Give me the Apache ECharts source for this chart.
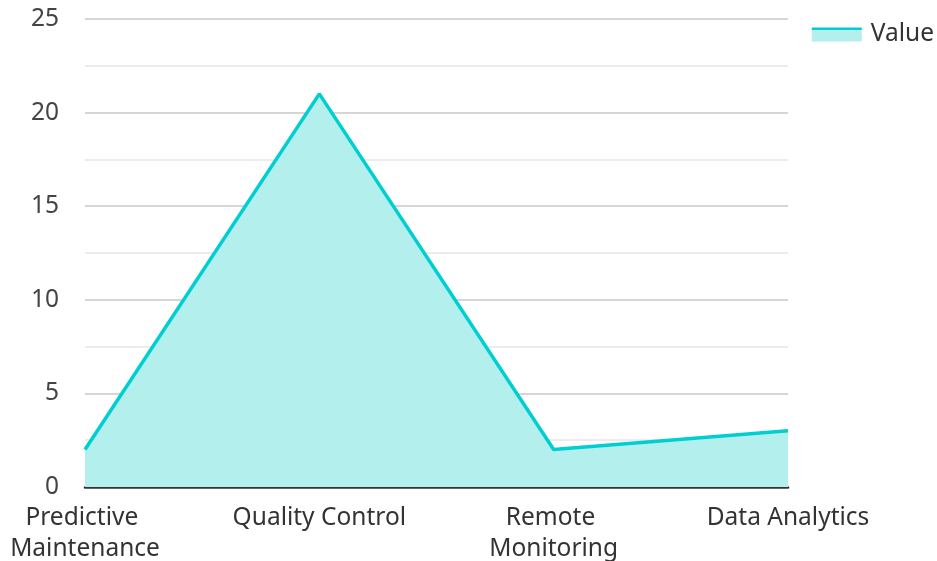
<!DOCTYPE html>
<html>
<head>
<meta charset="utf-8">
<script src="https://cdn.jsdelivr.net/npm/echarts@6/dist/echarts.min.js"></script>
<style>
  html, body { margin: 0; padding: 0; background: #fff; }
  #chart { width: 937px; height: 561px; }
</style>
</head>
<body>
<div id="chart"></div>
<script>
const categories = ['Predictive Maintenance', 'Quality Control', 'Remote Monitoring', 'Data Analytics'];
const values = [2, 21, 2, 3];
const seriesName = 'Value';

const lineColor = '#00CED1';
const areaColor = '#b2efed';

const chart = echarts.init(document.getElementById('chart'));
chart.setOption({
  animation: false,
  textStyle: { fontFamily: 'Noto Sans' },
  legend: {
    data: [{
      name: seriesName,
      icon: 'rect',
      itemStyle: {
        color: new echarts.graphic.LinearGradient(0, 0, 0, 1, [
          { offset: 0, color: lineColor },
          { offset: 0.2, color: lineColor },
          { offset: 0.2, color: areaColor },
          { offset: 1, color: areaColor }
        ])
      }
    }],
    right: -2,
    top: 17,
    itemWidth: 50,
    itemHeight: 14,
    itemGap: 10,
    textStyle: { fontSize: 24.5, color: '#333', fontFamily: 'Noto Sans', padding: [0, 0, 0, 4] }
  },
  grid: { left: 85, right: 149, top: 19, bottom: 74, containLabel: false, outerBoundsMode: 'none' },
  xAxis: {
    type: 'category',
    data: categories,
    boundaryGap: false,
    axisLine: { lineStyle: { color: '#333', width: 2.5 } },
    axisTick: { show: false },
    axisLabel: {
      fontSize: 24.5,
      color: '#333',
      margin: 16,
      width: 200,
      overflow: 'break',
      lineHeight: 31,
      interval: 0
    }
  },
  yAxis: {
    type: 'value',
    min: 0,
    max: 25,
    interval: 5,
    axisLine: { show: false },
    axisTick: { show: false },
    axisLabel: { fontSize: 24.5, color: '#444', margin: 26 },
    splitLine: { lineStyle: { color: '#c8c8c8', width: 1.5 } },
    minorTick: { show: false, splitNumber: 2 },
    minorSplitLine: { show: true, lineStyle: { color: '#e6e6e6', width: 1.5 } }
  },
  series: [{
    name: seriesName,
    type: 'line',
    data: values,
    symbol: 'none',
    lineStyle: { color: lineColor, width: 3.5 },
    itemStyle: { color: lineColor },
    areaStyle: { color: areaColor, opacity: 1 },
    z: 3
  }]
});
</script>
</body>
</html>
